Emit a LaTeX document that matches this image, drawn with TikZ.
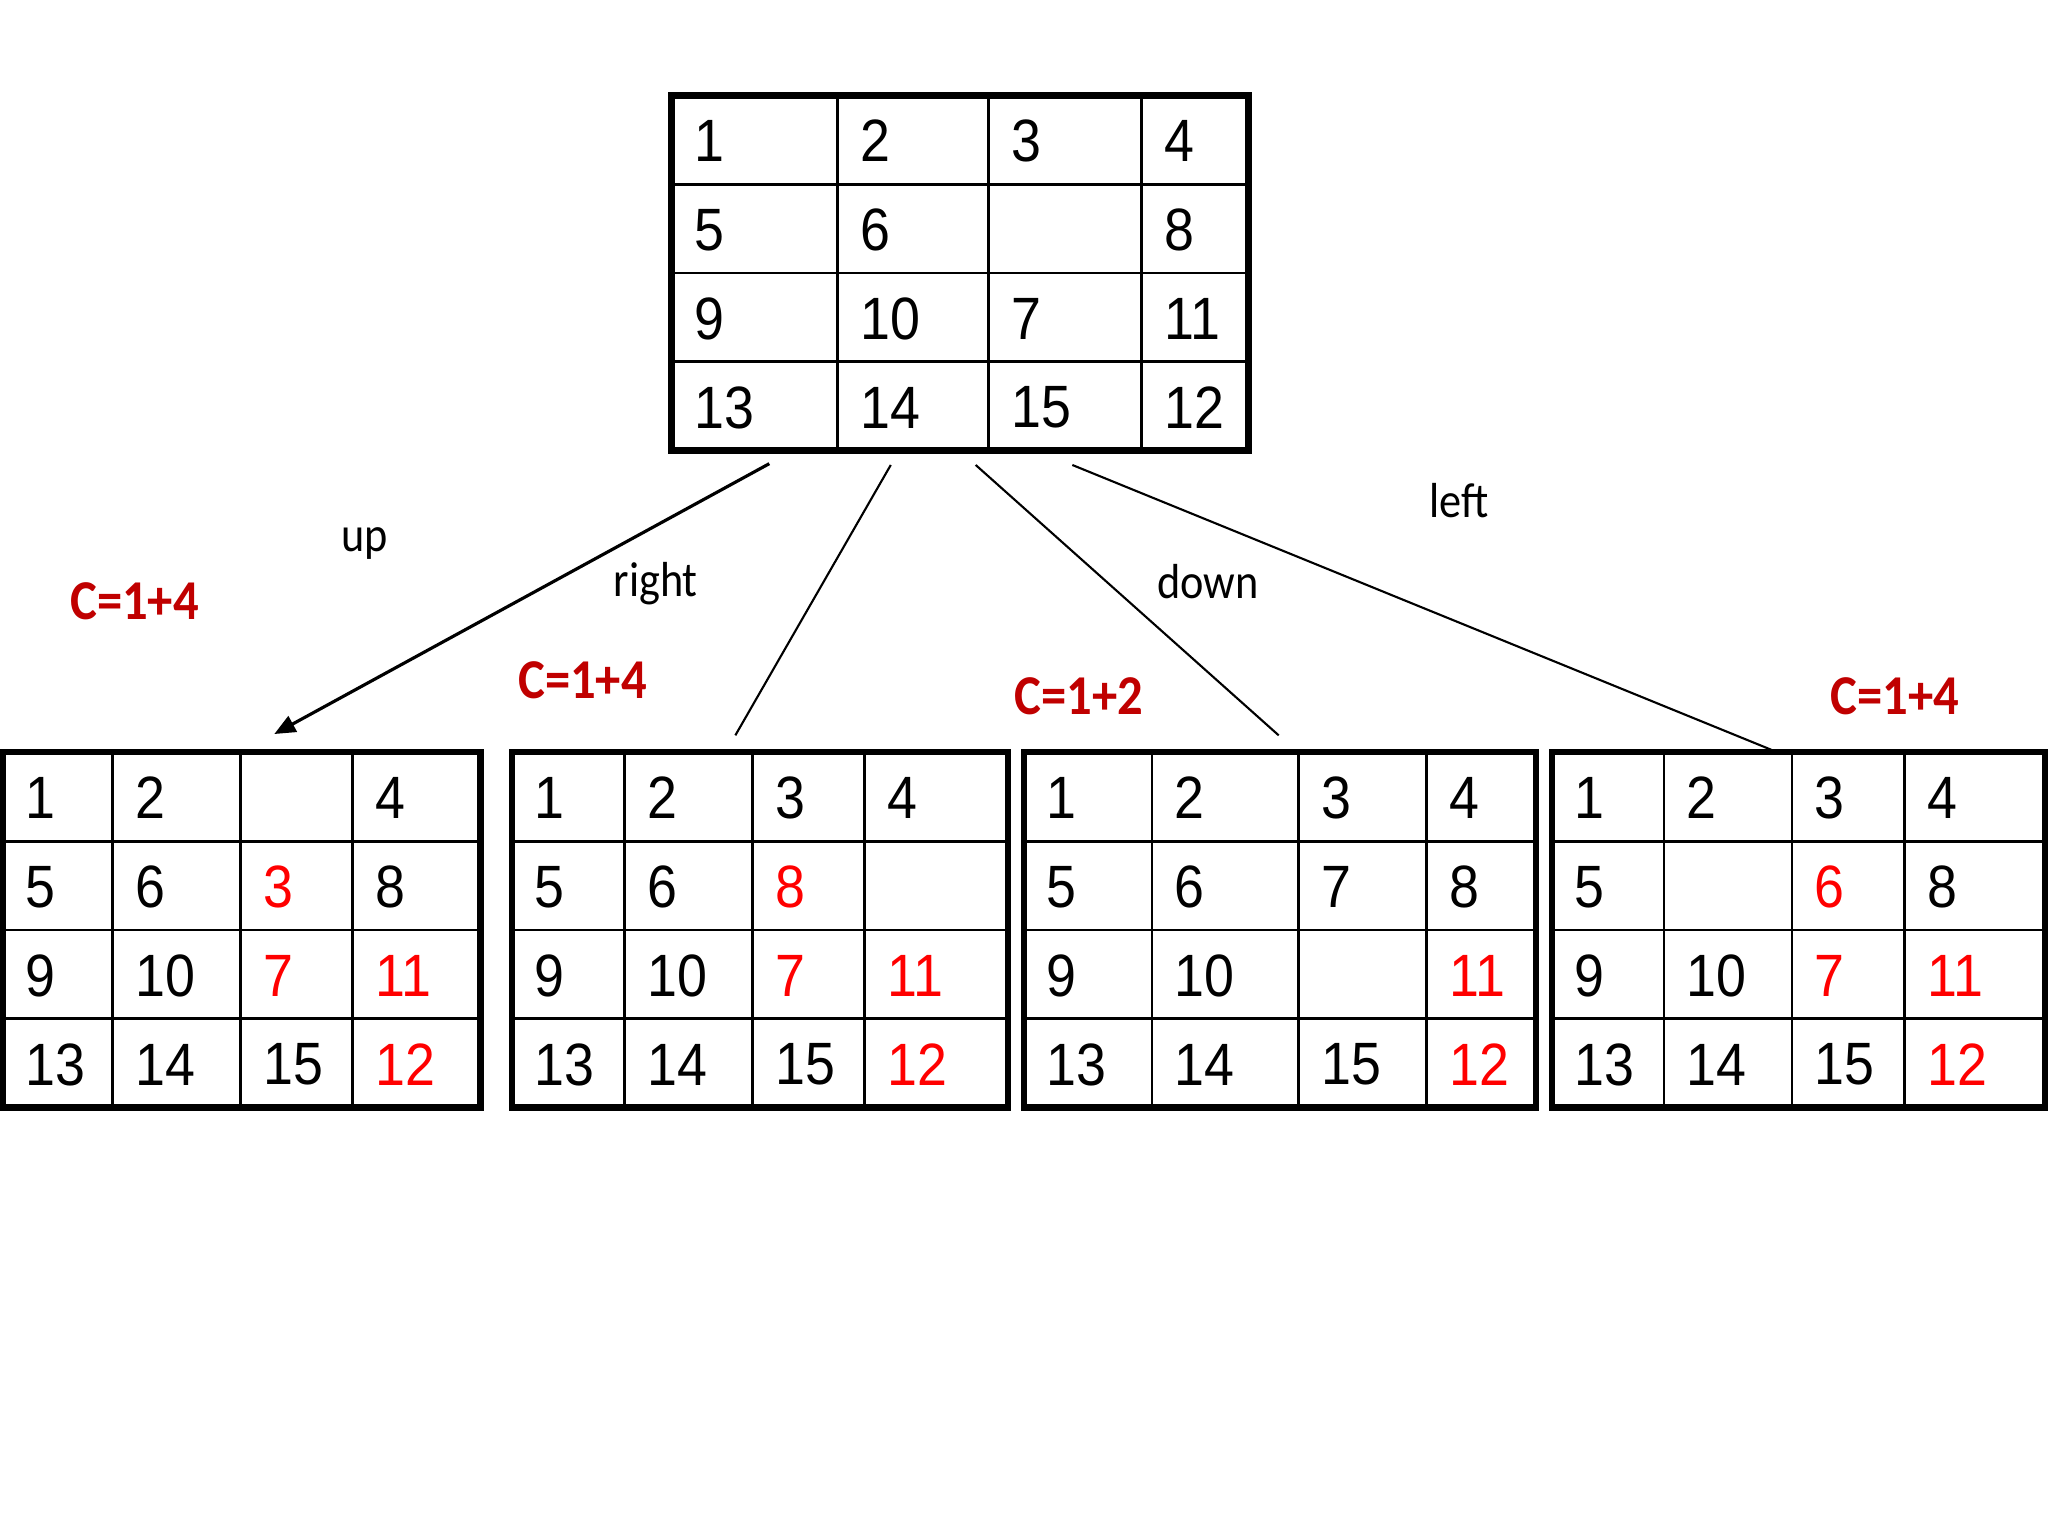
\documentclass[tikz,border=0pt]{standalone}
\usepackage{fontspec}
\setmainfont{Liberation Sans}
\newfontfamily\digfont[FakeStretch=0.9]{Liberation Sans}
\newfontfamily\labfont[FakeStretch=0.9]{Carlito}
\usetikzlibrary{arrows.meta}
\definecolor{cred}{HTML}{C00000}
\newcommand\R[1]{\textcolor{red}{#1}}
\tikzset{
  outerbox/.style={line width=1.8pt, draw=black},
  innerline/.style={line width=0.8pt, draw=black},
  digit/.style={anchor=west, inner sep=0pt, font=\digfont\fontsize{17}{20}\selectfont},
  movelabel/.style={anchor=base, inner sep=0pt, font=\labfont\fontsize{14}{16}\selectfont},
  costlabel/.style={anchor=base, inner sep=0pt, text=cred, font=\labfont\bfseries\fontsize{16}{18}\selectfont},
  conn/.style={line width=0.6pt, draw=black},
}
% #1 name, #2..#6 x borders, #7 top y, #8 cell list
\newcommand\pgrid[8]{%
  \foreach \xx in {#3,#4,#5} \draw[innerline] (\xx,#7) -- (\xx,#7+272);
  \foreach \k in {1,2,3} \draw[innerline] (#2,#7+68*\k) -- (#6,#7+68*\k);
  \draw[outerbox] (#2,#7) rectangle (#6,#7+272);
  \foreach \t [count=\i from 0] in {#8} {
    \pgfmathsetmacro\cx{{#2,#3,#4,#5}[mod(\i,4)]}
    \pgfmathsetmacro\cy{#7+35+68*int(\i/4)}
    \node[digit] (#1-\i) at (\cx+17,\cy) {\t};
  }
}
\begin{document}
\begin{tikzpicture}[x=0.013061cm, y=-0.013061cm]
\useasboundingbox (0,0) rectangle (1568,1176);
\fill[white] (0,0) rectangle (1568,1176);

% top state
\pgrid{top}{514}{641}{757}{874}{956}{73}{1,2,3,4,5,6,{},8,9,10,7,11,13,14,15,12}

% children
\pgrid{up}{2}{86}{184}{270}{368}{576}{1,2,{},4,5,6,\R{3},8,9,10,\R{7},\R{11},13,14,15,\R{12}}
\pgrid{right}{392}{478}{576}{662}{772}{576}{1,2,3,4,5,6,\R{8},{},9,10,\R{7},\R{11},13,14,15,\R{12}}
\pgrid{down}{784}{882}{994}{1092}{1176}{576}{1,2,3,4,5,6,7,8,9,10,{},\R{11},13,14,15,\R{12}}
\pgrid{left}{1188}{1274}{1372}{1458}{1566}{576}{1,2,3,4,5,{},\R{6},8,9,10,\R{7},\R{11},13,14,15,\R{12}}

% connector end points
\coordinate (top-a) at (589,355);
\coordinate (top-b) at (682,356);
\coordinate (top-c) at (747,356);
\coordinate (top-d) at (821,356);
\coordinate (up-in) at (210,562);
\coordinate (right-in) at (563,563);
\coordinate (down-in) at (979,563);
\coordinate (left-in) at (1356,574);

\draw[conn, line width=0.9pt, -{Triangle[length=6pt,width=5pt]}] (top-a) -- (up-in);
\draw[conn] (top-b) -- (right-in);
\draw[conn] (top-c) -- (down-in);
\draw[conn] (top-d) -- (left-in);

% move labels
\node[movelabel] (lup) at (279,422) {up};
\node[movelabel] (lright) at (502,457) {right};
\node[movelabel] (ldown) at (925,458) {down};
\node[movelabel] (lleft) at (1117,396) {left};

% cost labels
\node[costlabel] (c1) at (103,474) {C=1+4};
\node[costlabel] (c2) at (446,535) {C=1+4};
\node[costlabel] (c3) at (826,547) {C=1+2};
\node[costlabel] (c4) at (1451,547) {C=1+4};
\end{tikzpicture}
\end{document}
